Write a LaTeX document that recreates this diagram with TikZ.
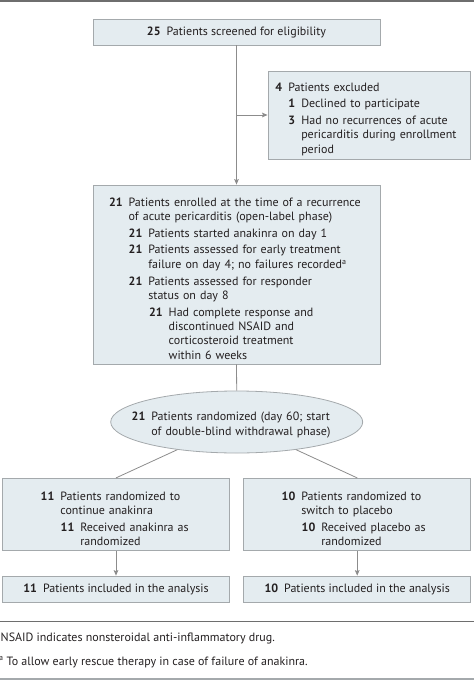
\documentclass[tikz,border=0pt]{standalone}
\usepackage{fontspec}
\setmainfont{PT Sans}
\usetikzlibrary{arrows.meta,shapes.geometric}
\definecolor{boxfill}{HTML}{E4ECF0}
\definecolor{boxline}{HTML}{A4A9AC}
\definecolor{connc}{HTML}{8C8C8C}
\definecolor{txt}{HTML}{231F20}
\definecolor{rulec}{HTML}{6E6E6E}
% \ent[number width]{indent}{number}{text}
\newcommand\ent[4][19.7pt]{\par\leftskip=#2\relax\rightskip=0pt plus 1fil\relax
  \hangindent=#1\relax\hangafter=1\relax\noindent\makebox[#1][l]{\bfseries #3}#4\par}
\newcommand\num[2][19.7pt]{\makebox[#1][l]{\bfseries #2}}
\tikzset{
  box/.style={draw=boxline, fill=boxfill, line width=0.8pt, inner sep=0pt,
    text=txt, font=\fontsize{12}{14.4}\selectfont,
    execute at begin node={\setlength{\parskip}{2.3pt}}},
  ellbox/.style={ellipse, draw=boxline, fill=boxfill, line width=0.8pt, inner sep=0pt},
  plaintext/.style={inner sep=0pt, text=txt, font=\fontsize{12}{14.4}\selectfont},
  conn/.style={draw=connc, line width=0.8pt},
  arr/.style={conn, -{Stealth[length=5.5pt,width=4.6pt,inset=1pt]}},
  captext/.style={inner sep=0pt, text=txt, font=\fontsize{12}{14}\selectfont},
}
\begin{document}
\begin{tikzpicture}[x=1pt,y=-1pt]
\useasboundingbox (0,0) rectangle (474,680);
\draw[rulec, line width=1.6pt] (0,0.8) -- (474,0.8);
% boxes
\node[box, minimum width=287pt, minimum height=26pt] (b1) at (236.5,32)
  {\num{25}Patients screened for eligibility};
\node[box, text width=202.7pt, minimum height=88pt] (b2) at (369.3,115) {%
  \ent[13pt]{7.3pt}{4}{Patients excluded}
  \ent[13pt]{20.3pt}{1}{Declined to participate}
  \ent[13pt]{20.3pt}{3}{Had no recurrences of acute\newline pericarditis during enrollment\newline period}};
\node[box, text width=287pt, minimum height=179pt] (b3) at (236.5,274.5) {%
  \ent{16pt}{21}{Patients enrolled at the time of a recurrence\newline of acute pericarditis (open-label phase)}
  \ent{35.7pt}{21}{Patients started anakinra on day 1}
  \ent{35.7pt}{21}{Patients assessed for early treatment\newline failure on day 4; no failures recorded\textsuperscript{a}}
  \ent{35.7pt}{21}{Patients assessed for responder\newline status on day 8}
  \ent{56pt}{21}{Had complete response and\newline discontinued NSAID and\newline corticosteroid treatment\newline within 6 weeks}};
\node[ellbox, minimum width=252pt, minimum height=62pt] (el) at (236.7,422) {};
\node[plaintext, text width=210pt] (elt) at (el.center) {%
  \ent{0pt}{21}{Patients randomized (day 60; start\newline of double-blind withdrawal phase)}};
\node[box, text width=226.6pt, minimum height=72.4pt] (b4l) at (116,514.5) {%
  \ent{38pt}{11}{Patients randomized to\newline continue anakinra}
  \ent{58pt}{11}{Received anakinra as\newline randomized}};
\node[box, text width=227pt, minimum height=72.4pt] (b4r) at (357.2,514.5) {%
  \ent{38pt}{10}{Patients randomized to\newline switch to placebo}
  \ent{58pt}{10}{Received placebo as\newline randomized}};
\node[box, minimum width=226.6pt, minimum height=26.3pt] (b5l) at (116,589.2)
  {\num{11}Patients included in the analysis};
\node[box, minimum width=227pt, minimum height=26.3pt] (b5r) at (357.2,589.2)
  {\num{10}Patients included in the analysis};
% connectors
\coordinate (j) at (b1.south |- b2.west);
\draw[arr] (b1.south) -- (b3.north);
\draw[arr] (j) -- (b2.west);
\draw[conn] (b3.south) -- (el.north);
\draw[conn] (el.205) -- (b4l.north);
\draw[conn] (el.335) -- (b4r.north);
\draw[arr] (b4l.south) -- (b5l.north);
\draw[arr] (b4r.south) -- (b5r.north);
% footnotes
\draw[rulec, line width=1pt] (0,621) -- (474,621);
\node[captext, anchor=west] (c1) at (0.5,638) {NSAID indicates nonsteroidal anti-inflammatory drug.};
\node[captext, anchor=west] (c2) at (-1,662) {\textsuperscript{a}\hspace{3pt}To allow early rescue therapy in case of failure of anakinra.};
\draw[boxline, line width=2pt] (0,679) -- (474,679);
\end{tikzpicture}
\end{document}
